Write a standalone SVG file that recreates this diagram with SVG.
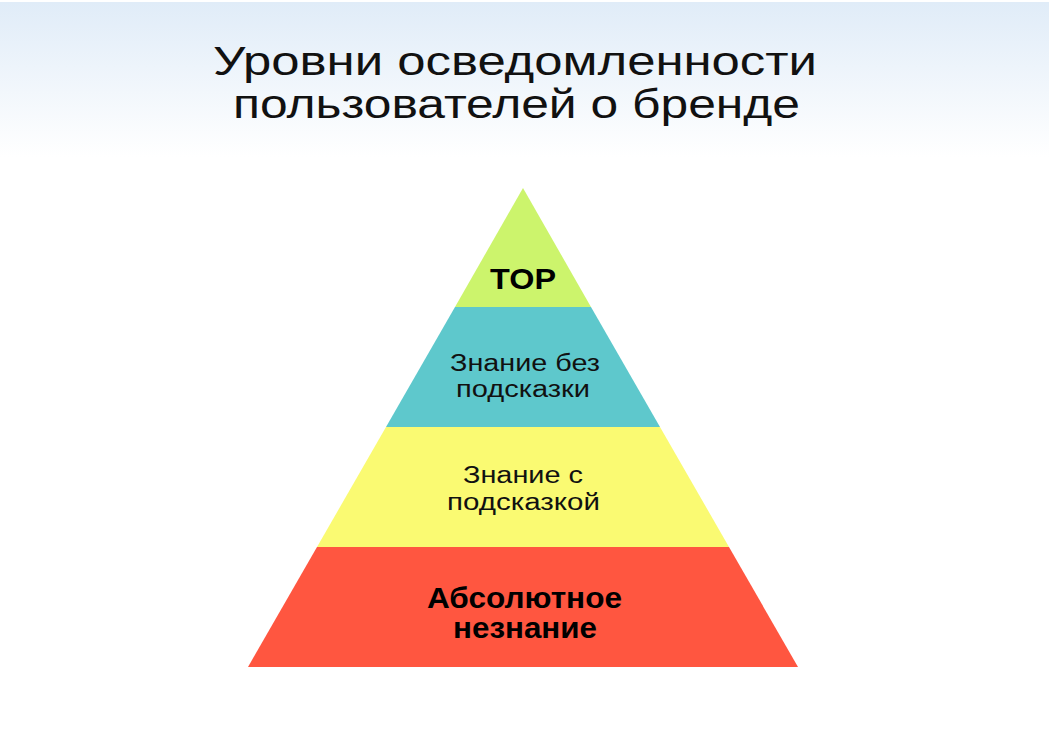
<svg xmlns="http://www.w3.org/2000/svg" width="1049" height="756" viewBox="0 0 1049 756">
  <defs>
    <linearGradient id="bg" x1="0" y1="0" x2="0" y2="1">
      <stop offset="0" stop-color="#e0ecf8"/>
      <stop offset="1" stop-color="#ffffff"/>
    </linearGradient>
  </defs>
  <style>
    .title { font-family: "Liberation Sans", Arial, sans-serif; font-weight: normal; font-size: 40px; fill: #111111; text-anchor: middle; }
    .lbl { font-family: "Liberation Sans", Arial, sans-serif; font-size: 23px; fill: #111111; text-anchor: middle; }
    .bold { font-family: "Liberation Sans", Arial, sans-serif; font-weight: bold; font-size: 30px; fill: #000000; text-anchor: middle; }
  </style>
  <rect x="0" y="0" width="1049" height="756" fill="#ffffff"/>
  <rect x="0" y="2" width="1049" height="155" fill="url(#bg)"/>
  <g id="title">
    <text class="title" x="515" y="75" textLength="604" lengthAdjust="spacingAndGlyphs">Уровни осведомленности</text>
    <text class="title" x="516.5" y="118" textLength="567" lengthAdjust="spacingAndGlyphs">пользователей о бренде</text>
  </g>
  <g id="level-top">
    <polygon points="523,188 591,307 455,307" fill="#ccf46c"/>
    <text class="bold" x="523" y="289" textLength="66" lengthAdjust="spacingAndGlyphs">TOP</text>
  </g>
  <g id="level-unaided">
    <polygon points="455,307 591,307 660,427 386,427" fill="#5ec8cc"/>
    <text class="lbl" x="525" y="371" textLength="150" lengthAdjust="spacingAndGlyphs">Знание без</text>
    <text class="lbl" x="523" y="397" textLength="134" lengthAdjust="spacingAndGlyphs">подсказки</text>
  </g>
  <g id="level-aided">
    <polygon points="386,427 660,427 729,547 317,547" fill="#fafa72"/>
    <text class="lbl" x="523" y="483" textLength="120" lengthAdjust="spacingAndGlyphs">Знание с</text>
    <text class="lbl" x="523.5" y="510" textLength="153" lengthAdjust="spacingAndGlyphs">подсказкой</text>
  </g>
  <g id="level-unaware">
    <polygon points="317,547 729,547 798,667 248,667" fill="#ff5640"/>
    <text class="bold" x="524.5" y="608" textLength="195" lengthAdjust="spacingAndGlyphs">Абсолютное</text>
    <text class="bold" x="525" y="638" textLength="144" lengthAdjust="spacingAndGlyphs">незнание</text>
  </g>
  <g id="connectors"/>
</svg>
